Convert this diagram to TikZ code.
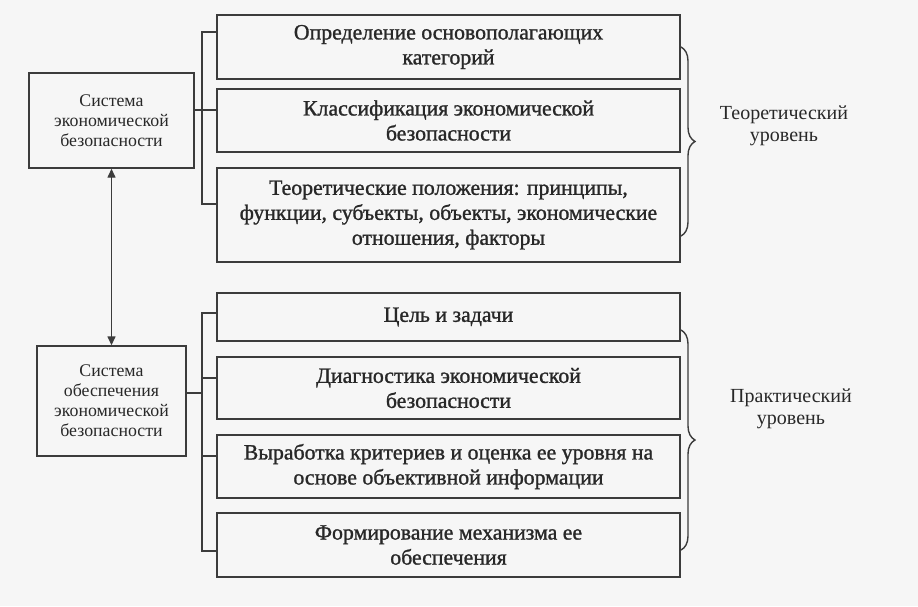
\documentclass[tikz,border=0pt]{standalone}
\usepackage{fontspec}
\setmainfont{Liberation Serif}
\newfontfamily\heavyserif[FakeBold=1.2]{Liberation Serif}
\usetikzlibrary{decorations.pathreplacing,arrows.meta}
\definecolor{bgc}{RGB}{246,246,246}
\definecolor{lnc}{RGB}{60,60,60}
\definecolor{txc}{RGB}{40,40,40}
\begin{document}
\begin{tikzpicture}[x=1pt,y=-1pt,
  rbox/.style={draw=lnc,line width=1.4pt,fill=bgc,minimum width=463pt,inner sep=0pt,align=center,text=txc,font=\heavyserif\fontsize{21.8}{25}\selectfont},
  lbox/.style={draw=lnc,line width=1.4pt,fill=bgc,inner sep=0pt,align=center,text=txc,font=\fontsize{17.8}{20}\selectfont},
  conn/.style={draw=lnc,line width=1.4pt},
  lvl/.style={align=center,text=txc,font=\fontsize{20}{22}\selectfont},
  brc/.style={draw=lnc,line width=1.4pt,decorate,decoration={brace,amplitude=14pt}}]
\fill[bgc] (0,0) rectangle (918,606);
\useasboundingbox (0,0) rectangle (918,606);
% left boxes
\node[lbox,minimum width=165pt,minimum height=95pt] (L1) at (111.5,120.5) {Система\\экономической\\безопасности};
\node[lbox,minimum width=149pt,minimum height=110pt] (L2) at (111.5,401) {Система\\обеспечения\\экономической\\безопасности};
% right boxes
\node[rbox,minimum height=64pt] (R1) at (448.5,47) {Определение основополагающих\\категорий};
\node[rbox,minimum height=63pt] (R2) at (448.5,120.5) {Классификация экономической\\безопасности};
\node[rbox,minimum height=94pt] (R3) at (448.5,215) {Теоретические положения: принципы,\\функции, субъекты, объекты, экономические\\отношения, факторы};
\node[rbox,minimum height=48pt] (R4) at (448.5,317) {Цель и задачи};
\node[rbox,minimum height=62pt] (R5) at (448.5,388) {Диагностика экономической\\безопасности};
\node[rbox,minimum height=63pt] (R6) at (448.5,466.5) {Выработка критериев и оценка ее уровня на\\основе объективной информации};
\node[rbox,minimum height=64pt] (R7) at (448.5,545) {Формирование механизма ее\\обеспечения};
% bus coordinates
\coordinate (t1) at (202,32);
\coordinate (t2) at (202,110);
\coordinate (t3) at (202,204);
\coordinate (b1) at (202,313);
\coordinate (b2) at (202,378);
\coordinate (b0) at (202,393);
\coordinate (b3) at (202,456);
\coordinate (b4) at (202,551);
% top tree
\draw[conn] (R1.west |- t1) -- (t1) -- (t3) -- (R3.west |- t3);
\draw[conn] (L1.east |- t2) -- (R2.west |- t2);
% bottom tree
\draw[conn] (R4.west |- b1) -- (b1) -- (b4) -- (R7.west |- b4);
\draw[conn] (b2) -- (R5.west |- b2);
\draw[conn] (b3) -- (R6.west |- b3);
\draw[conn] (L2.east |- b0) -- (b0);
% vertical arrow
\draw[conn,{Triangle[length=9pt,width=8pt]}-{Triangle[length=9pt,width=8pt]}] (L1.south) -- (L2.north);
% braces
\coordinate (c1) at (681,47);
\coordinate (c2) at (681,236);
\coordinate (c3) at (681,330);
\coordinate (c4) at (681,550);
\draw[brc] (c1) -- (c2);
\draw[brc] (c3) -- (c4);
\node[lvl] (T1) at (784,126) {Теоретический\\уровень};
\node[lvl] (T2) at (791,409) {Практический\\уровень};
\end{tikzpicture}
\end{document}
